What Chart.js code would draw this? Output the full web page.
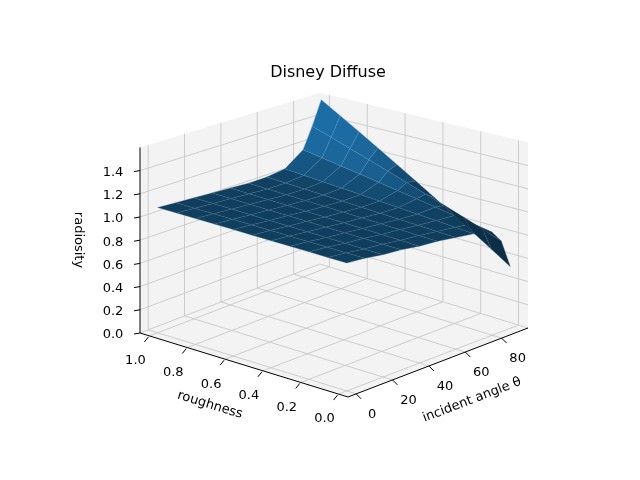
<!DOCTYPE html>
<html><head><meta charset="utf-8">
<script src="https://cdn.jsdelivr.net/npm/chart.js@4.4.0/dist/chart.umd.min.js"></script>
<style>html,body{margin:0;background:#fff}#c{width:640px;height:480px}</style>
</head><body><div id="c"><canvas id="cv" width="640" height="480"></canvas></div>
<script>
// incident angle (deg) grid, roughness grid
const angles = [0,10,20,30,40,50,60,70,80,85,90];
const roughness = [0,0.1,0.2,0.3,0.4,0.5,0.6,0.7,0.8,0.9,1.0];
// radiosity[r][a]
const radiosity = [
 [1.030,1.020,1.000,0.990,0.970,0.960,0.940,0.920,0.880,0.780,0.530],
 [1.035,1.025,1.006,0.996,0.977,0.967,0.949,0.933,0.909,0.838,0.635],
 [1.040,1.030,1.012,1.002,0.984,0.974,0.958,0.946,0.938,0.896,0.740],
 [1.045,1.035,1.018,1.008,0.991,0.981,0.967,0.959,0.967,0.954,0.845],
 [1.050,1.040,1.024,1.014,0.998,0.988,0.976,0.972,0.996,1.012,0.950],
 [1.055,1.045,1.030,1.020,1.005,0.995,0.985,0.985,1.025,1.070,1.055],
 [1.060,1.050,1.036,1.026,1.012,1.002,0.994,0.998,1.054,1.128,1.160],
 [1.065,1.055,1.042,1.032,1.019,1.009,1.003,1.011,1.083,1.186,1.265],
 [1.070,1.060,1.048,1.038,1.026,1.016,1.012,1.024,1.112,1.244,1.370],
 [1.075,1.065,1.054,1.044,1.033,1.023,1.021,1.037,1.141,1.302,1.475],
 [1.080,1.070,1.060,1.050,1.040,1.030,1.030,1.050,1.170,1.360,1.580]
];
const angleTicks = [0,20,40,60,80];
const roughTicks = [0.0,0.2,0.4,0.6,0.8,1.0];
const zTicks = [0.0,0.2,0.4,0.6,0.8,1.0,1.2,1.4];

const A0=-4.5,A1=94.5,R0=-0.05,R1=1.05,Z1=1.6;
function proj(a,r,z){
  const an=(a-A0)/(A1-A0), rn=(r-R0)/(R1-R0);
  return {x:348-208*rn+180*an, y:397-64*rn-69*an - z*(125-18*(rn+an)/2)};
}
const base=[31,119,180];
const L=[-0.8,-1.2,-0.37];
function shade(a,b,c){
  const n=(p)=>[(p[0]-A0)/(A1-A0),(p[1]-R0)/(R1-R0),p[2]/Z1];
  const p=n(a),q=n(b),s=n(c);
  const u=[q[0]-p[0],q[1]-p[1],q[2]-p[2]], v=[s[0]-p[0],s[1]-p[1],s[2]-p[2]];
  let N=[u[1]*v[2]-u[2]*v[1],u[2]*v[0]-u[0]*v[2],u[0]*v[1]-u[1]*v[0]];
  const m=Math.hypot(...N); N=N.map(t=>t/m); if(N[2]<0) N=N.map(t=>-t);
  let d=N[0]*L[0]+N[1]*L[1]+N[2]*L[2]; d=Math.max(-1,Math.min(1,d));
  const k=0.3+0.7*(d+1)/2;
  return base.map(t=>Math.round(t*k));
}
const quads=[];
for(let i=0;i<roughness.length-1;i++)for(let j=0;j<angles.length-1;j++){
  const c=[[angles[j],roughness[i],radiosity[i][j]],[angles[j+1],roughness[i],radiosity[i][j+1]],
           [angles[j+1],roughness[i+1],radiosity[i+1][j+1]],[angles[j],roughness[i+1],radiosity[i+1][j]]];
  const depth=(roughness[i]+roughness[i+1])/2+(angles[j]+angles[j+1])/180;
  const col=shade(c[0],c[1],c[3]);
  const pts=c.map(p=>proj(p[0],p[1],p[2])); pts.push(pts[0]);
  quads.push({depth,col,pts});
}
const datasets=quads.map(q=>({
  type:'scatter',data:q.pts,showLine:true,fill:'shape',tension:0,pointRadius:0,
  backgroundColor:`rgb(${q.col})`,borderColor:`rgba(${q.col.map(t=>Math.min(255,t+45))},0.8)`,borderWidth:0.4,
  order:Math.round(-q.depth*1000)
}));

const boxPlugin={id:'box',beforeDatasetsDraw(chart){
  const ctx=chart.ctx, X=chart.scales.x, Y=chart.scales.y;
  const P=(a,r,z)=>{const p=proj(a,r,z);return [X.getPixelForValue(p.x),Y.getPixelForValue(p.y)];};
  const poly=(pts,fill)=>{ctx.beginPath();pts.forEach((p,i)=>i?ctx.lineTo(...p):ctx.moveTo(...p));ctx.closePath();ctx.fillStyle=fill;ctx.fill();};
  const line=(p,q,col,w)=>{ctx.beginPath();ctx.moveTo(...p);ctx.lineTo(...q);ctx.strokeStyle=col;ctx.lineWidth=w;ctx.stroke();};
  ctx.save();
  const pane='rgba(242,242,242,0.9)';
  poly([P(A0,R1,0),P(A1,R1,0),P(A1,R1,Z1),P(A0,R1,Z1)],pane);
  poly([P(A1,R0,0),P(A1,R1,0),P(A1,R1,Z1),P(A1,R0,Z1)],pane);
  poly([P(A0,R0,0),P(A1,R0,0),P(A1,R1,0),P(A0,R1,0)],pane);
  const g='#c8c8c8';
  angleTicks.forEach(a=>{line(P(a,R0,0),P(a,R1,0),g,0.9);line(P(a,R1,0),P(a,R1,Z1),g,0.9);});
  roughTicks.forEach(r=>{line(P(A0,r,0),P(A1,r,0),g,0.9);line(P(A1,r,0),P(A1,r,Z1),g,0.9);});
  zTicks.forEach(z=>{line(P(A0,R1,z),P(A1,R1,z),g,0.9);line(P(A1,R1,z),P(A1,R0,z),g,0.9);});
  line(P(A0,R0,0),P(A0,R1,0),'#000',1);
  line(P(A0,R0,0),P(A1,R0,0),'#000',1);
  line(P(A0,R1,0),P(A0,R1,Z1),'#000',1);
  ctx.fillStyle='#000';ctx.font='13px "DejaVu Sans"';ctx.textAlign='center';ctx.textBaseline='middle';
  roughTicks.forEach(r=>{const p=P(A0,r,0);line([p[0]-1,p[1]+1],[p[0]-5,p[1]+6],'#000',1);ctx.fillText(r.toFixed(1),p[0]-14,p[1]+25);});
  angleTicks.forEach(a=>{const p=P(a,R0,0);line([p[0],p[1]],[p[0]+5,p[1]+5],'#000',1);ctx.fillText(String(a),p[0]+16,p[1]+21);});
  zTicks.forEach(z=>{const p=P(A0,R1,z);line([p[0],p[1]],[p[0]-6,p[1]+1],'#000',1);ctx.fillText(z.toFixed(1),p[0]-27,p[1]+2);});
  const rot=(t,x,y,ang)=>{ctx.save();ctx.translate(x,y);ctx.rotate(ang*Math.PI/180);ctx.fillText(t,0,0);ctx.restore();};
  rot('roughness',210,405,17);
  rot('incident angle θ',472,400,-21);
  rot('radiosity',78,240,90);
  ctx.font='16px "DejaVu Sans"';
  ctx.fillText('Disney Diffuse',328,73);
  ctx.restore();
}};

new Chart(document.getElementById('cv'),{
  data:{datasets},
  options:{responsive:false,animation:false,
    layout:{padding:0},
    plugins:{legend:{display:false},tooltip:{enabled:false},title:{display:false}},
    scales:{x:{type:'linear',min:0,max:640,display:false},y:{type:'linear',min:0,max:480,reverse:true,display:false}}
  },
  plugins:[boxPlugin]
});
</script></body></html>
